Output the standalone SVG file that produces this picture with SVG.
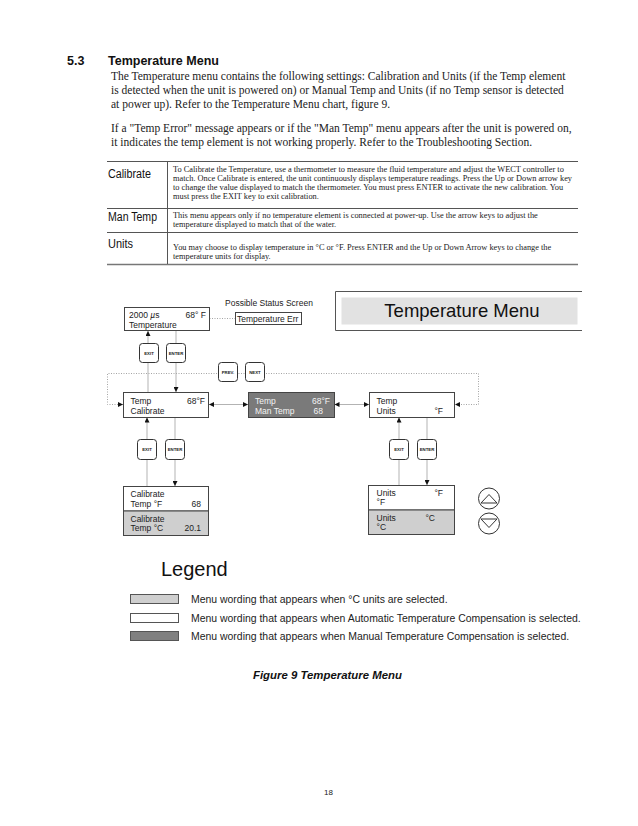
<svg xmlns="http://www.w3.org/2000/svg" width="638" height="826" viewBox="0 0 638 826">
<defs>
<style>
.h{font-family:"Liberation Sans",Arial,sans-serif;font-weight:bold;font-size:12.5px;fill:#111}
.p{font-family:"Liberation Serif","Times New Roman",serif;font-size:11.5px;fill:#222}
.d{font-family:"Liberation Serif","Times New Roman",serif;font-size:8.35px;fill:#222}
.l{font-family:"Liberation Sans",Arial,sans-serif;font-size:12.5px;fill:#111}
.s{font-family:"Liberation Sans",Arial,sans-serif;font-size:8.5px;fill:#222}
.w{font-family:"Liberation Sans",Arial,sans-serif;font-size:8.5px;fill:#f4f4f4}
.b{font-family:"Liberation Sans",Arial,sans-serif;font-size:4.3px;font-weight:bold;fill:#222}
.btn{fill:#fff;stroke:#333;stroke-width:1}
.box{fill:#fff;stroke:#444;stroke-width:1}
.gbox{fill:#cfcfcf;stroke:#444;stroke-width:1}
.dbox{fill:#7a7a7a;stroke:#444;stroke-width:1}
.c{fill:none;stroke:#b3b3b3;stroke-width:1}
.dot{fill:none;stroke:#a5a5a5;stroke-width:1;stroke-dasharray:1 1.5}
.tl{stroke:#555;stroke-width:1}
.lg{font-family:"Liberation Sans",Arial,sans-serif;font-size:10.45px;fill:#222}
</style>
<marker id="ah" viewBox="0 0 6 6" refX="6" refY="3" markerWidth="6" markerHeight="5" markerUnits="userSpaceOnUse" orient="auto-start-reverse">
<path d="M0,0 L6,3 L0,6 z" fill="#111"/>
</marker>
</defs>
<rect width="638" height="826" fill="#fff"/>

<g id="header">
<text class="h" x="67" y="65">5.3</text>
<text class="h" x="108" y="65">Temperature Menu</text>
<text class="p" x="111" y="80">The Temperature menu contains the following settings: Calibration and Units (if the Temp element</text>
<text class="p" x="111" y="94">is detected when the unit is powered on) or Manual Temp and Units (if no Temp sensor is detected</text>
<text class="p" x="111" y="108">at power up). Refer to the Temperature Menu chart, figure 9.</text>
<text class="p" x="111" y="132">If a "Temp Error" message appears or if the "Man Temp" menu appears after the unit is powered on,</text>
<text class="p" x="111" y="146">it indicates the temp element is not working properly.  Refer to the Troubleshooting Section.</text>
</g>

<g id="table">
<line class="tl" x1="107" y1="161.5" x2="578" y2="161.5"/>
<line class="tl" x1="107" y1="208.5" x2="578" y2="208.5"/>
<line class="tl" x1="107" y1="232.5" x2="578" y2="232.5"/>
<line x1="107" y1="264.5" x2="578" y2="264.5" stroke="#777" stroke-width="1.5"/>
<line class="tl" x1="167.5" y1="161" x2="167.5" y2="264"/>
<text class="l" x="108" y="178" textLength="43" lengthAdjust="spacingAndGlyphs">Calibrate</text>
<text class="l" x="108" y="221" textLength="49" lengthAdjust="spacingAndGlyphs">Man Temp</text>
<text class="l" x="108" y="248" textLength="25" lengthAdjust="spacingAndGlyphs">Units</text>
<text class="d" x="173" y="172">To Calibrate the Temperature, use a thermometer to measure the fluid temperature and adjust the WECT controller to</text>
<text class="d" x="173" y="181">match. Once Calibrate is entered, the unit continuously displays temperature readings. Press the Up or Down arrow key</text>
<text class="d" x="173" y="190">to change the value displayed to match the thermometer. You must press ENTER to activate the new calibration. You</text>
<text class="d" x="173" y="199">must press the EXIT key to exit calibration.</text>
<text class="d" x="173" y="218">This menu appears only if no temperature element is connected at power-up.  Use the arrow keys to adjust the</text>
<text class="d" x="173" y="227">temperature displayed to match that of the water.</text>
<text class="d" x="173" y="250">You may choose to display temperature in °C or °F. Press ENTER and the Up or Down Arrow keys to change the</text>
<text class="d" x="173" y="259">temperature units for display.</text>
</g>

<g id="connectors">
<line class="c" x1="148" y1="392" x2="148" y2="331" marker-end="url(#ah)"/>
<line class="c" x1="176" y1="331" x2="176" y2="392" marker-end="url(#ah)"/>
<line class="c" x1="147" y1="486" x2="147" y2="417.5" marker-end="url(#ah)"/>
<line class="c" x1="175" y1="417" x2="175" y2="486" marker-end="url(#ah)"/>
<line class="c" x1="399" y1="485" x2="399" y2="417.5" marker-end="url(#ah)"/>
<line class="c" x1="427" y1="417" x2="427" y2="485" marker-end="url(#ah)"/>
<line class="c" x1="209" y1="404.5" x2="248" y2="404.5" marker-start="url(#ah)" marker-end="url(#ah)"/>
<line class="c" x1="334.5" y1="404.5" x2="369" y2="404.5" marker-start="url(#ah)" marker-end="url(#ah)"/>
<line class="dot" x1="209.5" y1="318.5" x2="235" y2="318.5"/>
<path class="dot" d="M123,404.5 H107.5 V373.5 H478.5 V404.5 H455" marker-start="url(#ah)" marker-end="url(#ah)"/>
</g>

<g id="status-box">
<rect class="box" x="124.5" y="307.5" width="85" height="23"/>
<text class="s" x="129" y="318">2000 <tspan font-style="italic">µ</tspan>s</text>
<text class="s" x="206" y="318" text-anchor="end">68° F</text>
<text class="s" x="129" y="327.5">Temperature</text>
</g>

<g id="status-label">
<text class="s" x="225" y="306">Possible Status Screen</text>
</g>

<g id="temp-err">
<rect class="box" x="235.5" y="312.5" width="66" height="12"/>
<text class="s" x="237" y="321.5">Temperature Err</text>
</g>

<g id="title-box">
<path d="M582,291.5 H335.5 V330.5 H582" fill="none" stroke="#555" stroke-width="1"/>
<rect x="341.5" y="297.5" width="236" height="27" fill="#e2e2e2"/>
<text x="462" y="317" text-anchor="middle" font-family="'Liberation Sans',Arial,sans-serif" font-size="18.5" fill="#111">Temperature Menu</text>
</g>

<g id="btn-exit-1"><rect class="btn" x="139.5" y="343.5" width="19" height="19" rx="3"/><text class="b" x="149" y="354.5" text-anchor="middle">EXIT</text></g>
<g id="btn-enter-1"><rect class="btn" x="166.5" y="343.5" width="19" height="19" rx="3"/><text class="b" x="176" y="354.5" text-anchor="middle">ENTER</text></g>
<g id="btn-prev"><rect class="btn" x="218.5" y="362.5" width="19" height="19" rx="3"/><text class="b" x="228" y="373.5" text-anchor="middle">PREV.</text></g>
<g id="btn-next"><rect class="btn" x="245.5" y="362.5" width="19" height="19" rx="3"/><text class="b" x="255" y="373.5" text-anchor="middle">NEXT</text></g>

<g id="temp-calibrate">
<rect class="box" x="123.5" y="392.5" width="85" height="25"/>
<text class="s" x="130.5" y="404">Temp</text>
<text class="s" x="205" y="404" text-anchor="end">68°F</text>
<text class="s" x="130.5" y="414">Calibrate</text>
</g>

<g id="temp-man">
<rect class="dbox" x="248.5" y="392.5" width="86" height="25"/>
<text class="w" x="255" y="404">Temp</text>
<text class="w" x="330" y="404" text-anchor="end">68°F</text>
<text class="w" x="255" y="414">Man Temp</text>
<text class="w" x="323" y="414" text-anchor="end">68</text>
</g>

<g id="temp-units">
<rect class="box" x="369.5" y="392.5" width="85" height="25"/>
<text class="s" x="376.5" y="404">Temp</text>
<text class="s" x="376.5" y="414">Units</text>
<text class="s" x="443" y="414" text-anchor="end">°F</text>
</g>

<g id="btn-exit-2"><rect class="btn" x="137.5" y="439.5" width="19" height="20" rx="3"/><text class="b" x="147" y="451" text-anchor="middle">EXIT</text></g>
<g id="btn-enter-2"><rect class="btn" x="165.5" y="439.5" width="19" height="20" rx="3"/><text class="b" x="175" y="451" text-anchor="middle">ENTER</text></g>
<g id="btn-exit-3"><rect class="btn" x="389.5" y="439.5" width="19" height="20" rx="3"/><text class="b" x="399" y="451" text-anchor="middle">EXIT</text></g>
<g id="btn-enter-3"><rect class="btn" x="417.5" y="439.5" width="19" height="20" rx="3"/><text class="b" x="427" y="451" text-anchor="middle">ENTER</text></g>

<g id="calibrate-f">
<rect class="box" x="123.5" y="486.5" width="85" height="24.5"/>
<text class="s" x="130.5" y="496.5">Calibrate</text>
<text class="s" x="130.5" y="506.5">Temp  °F</text>
<text class="s" x="201" y="506.5" text-anchor="end">68</text>
</g>
<g id="calibrate-c">
<rect class="gbox" x="123.5" y="511" width="85" height="24.5"/>
<text class="s" x="130.5" y="521.5">Calibrate</text>
<text class="s" x="130.5" y="531">Temp  °C</text>
<text class="s" x="201" y="531" text-anchor="end">20.1</text>
</g>

<g id="units-f">
<rect class="box" x="368.5" y="485.5" width="86" height="24.5"/>
<text class="s" x="376.5" y="495.5">Units</text>
<text class="s" x="443" y="495.5" text-anchor="end">°F</text>
<text class="s" x="376.5" y="504.5">°F</text>
</g>
<g id="units-c">
<rect class="gbox" x="368.5" y="510" width="86" height="24.5"/>
<text class="s" x="376.5" y="520.5">Units</text>
<text class="s" x="435" y="520.5" text-anchor="end">°C</text>
<text class="s" x="376.5" y="529.5">°C</text>
</g>

<g id="key-up">
<circle cx="489" cy="498.5" r="10.5" fill="#fff" stroke="#333" stroke-width="1"/>
<path d="M481,503 L497,503 L489,494.5 z" fill="none" stroke="#333" stroke-width="1"/>
</g>
<g id="key-down">
<circle cx="489" cy="523.5" r="10.5" fill="#fff" stroke="#333" stroke-width="1"/>
<path d="M481,519 L497,519 L489,527.5 z" fill="none" stroke="#333" stroke-width="1"/>
</g>

<g id="legend">
<text x="161" y="576" font-family="'Liberation Sans',Arial,sans-serif" font-size="20" fill="#111">Legend</text>
<rect x="130.5" y="594.5" width="48" height="9" fill="#cfcfcf" stroke="#555"/>
<rect x="130.5" y="613.5" width="48" height="9" fill="#fff" stroke="#555"/>
<rect x="130.5" y="631.5" width="48" height="9" fill="#808080" stroke="#555"/>
<text class="lg" x="191" y="602.5">Menu wording that appears when °C units are selected.</text>
<text class="lg" x="191" y="621.5">Menu wording that appears when Automatic Temperature Compensation is selected.</text>
<text class="lg" x="191" y="640">Menu wording that appears when Manual Temperature Compensation is selected.</text>
</g>

<g id="caption">
<text x="253" y="679" font-family="'Liberation Sans',Arial,sans-serif" font-size="11.4" font-weight="bold" font-style="italic" fill="#111">Figure 9 Temperature Menu</text>
<text x="328.5" y="795" text-anchor="middle" font-family="'Liberation Sans',Arial,sans-serif" font-size="8" fill="#222">18</text>
</g>
</svg>
